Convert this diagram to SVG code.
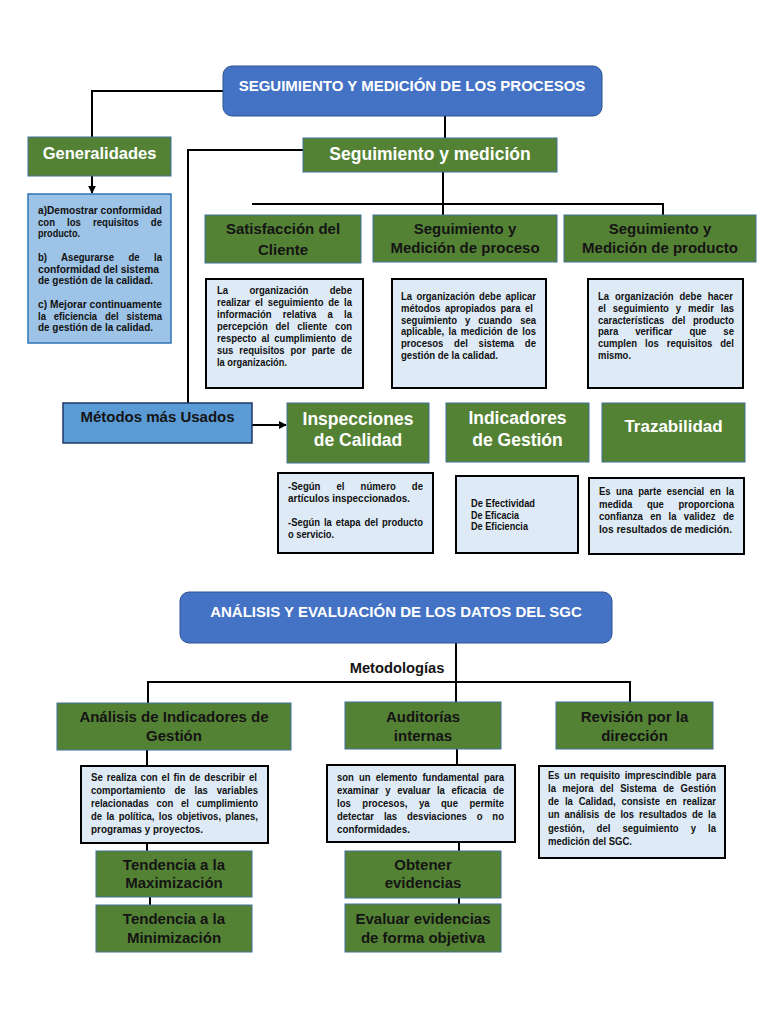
<svg xmlns="http://www.w3.org/2000/svg" width="768" height="1024" viewBox="0 0 768 1024">
<defs>
<marker id="arr" viewBox="0 0 10 10" refX="9" refY="5" markerWidth="4" markerHeight="4" orient="auto" markerUnits="strokeWidth">
<path d="M0,0 L10,5 L0,10 z" fill="#000"/>
</marker>
<style>
text{font-family:"Liberation Sans",Arial,sans-serif;font-weight:bold}
.title{fill:#4472C4;stroke:#2F528F;stroke-width:1}
.tt{fill:#fff;font-size:15px;text-anchor:middle}
.g{fill:#548235;stroke:#41719C;stroke-width:1}
.gw{fill:#fff;font-size:17.5px;text-anchor:middle}
.gk{fill:#141414;font-size:15px;text-anchor:middle}
.desc{fill:#DEEBF7;stroke:#000;stroke-width:2}
.d{fill:#111;font-size:11px}
.con{fill:none;stroke:#000;stroke-width:2}
</style>
</defs>
<rect width="768" height="1024" fill="#fff"/>

<g id="connectors">
<path class="con" d="M223,91 H92 V137"/>
<path class="con" d="M92,176 V193" marker-end="url(#arr)"/>
<path class="con" d="M445,116 V138"/>
<path class="con" d="M303,150 H188 V403"/>
<path class="con" d="M443,172 V215"/>
<path class="con" d="M252,204 H663 V215"/>
<path class="con" d="M252,425 H286" marker-end="url(#arr)"/>
<path class="con" d="M456,643 V702"/>
<path class="con" d="M148,703 V682 H630 V702"/>
<path class="con" d="M147,750 V766"/>
<path class="con" d="M147,843 V851"/>
<path class="con" d="M150,897 V905"/>
<path class="con" d="M457,749 V765"/>
<path class="con" d="M459,842 V851"/>
<path class="con" d="M459,898 V904"/>
</g>

<g id="title1">
<rect class="title" x="223" y="66" width="379" height="50" rx="9"/>
<text class="tt" x="412" y="91">SEGUIMIENTO Y MEDICIÓN DE LOS PROCESOS</text>
</g>

<g id="generalidades">
<rect class="g" x="28" y="137" width="143" height="39"/>
<text x="99.5" y="159" style="fill:#fff;font-size:16.5px;text-anchor:middle">Generalidades</text>
</g>

<g id="generalidades-desc">
<rect x="28" y="194" width="143" height="149" fill="#9DC3E6" stroke="#2E75B6" stroke-width="1.5"/>
<text class="d" x="38" y="214" textLength="124" lengthAdjust="spacingAndGlyphs">a)Demostrar conformidad</text>
<text class="d" x="38" y="225.5" textLength="124" lengthAdjust="spacingAndGlyphs" word-spacing="10.9">con los requisitos de</text>
<text class="d" x="38" y="237" textLength="42" lengthAdjust="spacingAndGlyphs">producto.</text>
<text class="d" x="38" y="261" textLength="124" lengthAdjust="spacingAndGlyphs" word-spacing="13.4">b) Asegurarse de la</text>
<text class="d" x="38" y="272.5" textLength="121" lengthAdjust="spacingAndGlyphs">conformidad del sistema</text>
<text class="d" x="38" y="284" textLength="115" lengthAdjust="spacingAndGlyphs">de gestión de la calidad.</text>
<text class="d" x="38" y="308" textLength="124" lengthAdjust="spacingAndGlyphs">c) Mejorar continuamente</text>
<text class="d" x="38" y="319.5" textLength="124" lengthAdjust="spacingAndGlyphs" word-spacing="6">la eficiencia del sistema</text>
<text class="d" x="38" y="331" textLength="115" lengthAdjust="spacingAndGlyphs">de gestión de la calidad.</text>
</g>

<g id="seguimiento-medicion">
<rect class="g" x="303" y="138" width="254" height="34"/>
<text class="gw" x="430" y="160">Seguimiento y medición</text>
</g>

<g id="satisfaccion">
<rect class="g" x="205" y="215" width="156" height="48"/>
<text class="gk" x="283" y="234">Satisfacción del</text>
<text class="gk" x="283" y="255">Cliente</text>
</g>

<g id="proceso">
<rect class="g" x="373" y="215" width="184" height="47"/>
<text class="gk" x="465" y="234">Seguimiento y</text>
<text class="gk" x="465" y="253">Medición de proceso</text>
</g>

<g id="producto">
<rect class="g" x="564" y="215" width="192" height="47"/>
<text class="gk" x="660" y="234">Seguimiento y</text>
<text class="gk" x="660" y="253">Medición de producto</text>
</g>

<g id="satisfaccion-desc">
<rect class="desc" x="206" y="279" width="157" height="109"/>
<text class="d" x="217" y="294" textLength="135" lengthAdjust="spacingAndGlyphs" word-spacing="21.3">La organización debe</text>
<text class="d" x="217" y="306" textLength="135" lengthAdjust="spacingAndGlyphs" word-spacing="2.5">realizar el seguimiento de la</text>
<text class="d" x="217" y="318" textLength="135" lengthAdjust="spacingAndGlyphs" word-spacing="9.9">información relativa a la</text>
<text class="d" x="217" y="330" textLength="135" lengthAdjust="spacingAndGlyphs" word-spacing="6">percepción del cliente con</text>
<text class="d" x="217" y="342" textLength="135" lengthAdjust="spacingAndGlyphs" word-spacing="2.7">respecto al cumplimiento de</text>
<text class="d" x="217" y="354" textLength="135" lengthAdjust="spacingAndGlyphs" word-spacing="3.8">sus requisitos por parte de</text>
<text class="d" x="217" y="366" textLength="70" lengthAdjust="spacingAndGlyphs">la organización.</text>
</g>

<g id="proceso-desc">
<rect class="desc" x="392" y="279" width="154" height="109"/>
<text class="d" x="401" y="300" textLength="135" lengthAdjust="spacingAndGlyphs" word-spacing="2">La organización debe aplicar</text>
<text class="d" x="401" y="311.8" textLength="132" lengthAdjust="spacingAndGlyphs" word-spacing="2.2">métodos apropiados para el</text>
<text class="d" x="401" y="323.6" textLength="135" lengthAdjust="spacingAndGlyphs" word-spacing="6.2">seguimiento y cuando sea</text>
<text class="d" x="401" y="335.4" textLength="135" lengthAdjust="spacingAndGlyphs" word-spacing="2">aplicable, la medición de los</text>
<text class="d" x="401" y="347.2" textLength="135" lengthAdjust="spacingAndGlyphs" word-spacing="9.3">procesos del sistema de</text>
<text class="d" x="401" y="359" textLength="97" lengthAdjust="spacingAndGlyphs">gestión de la calidad.</text>
</g>

<g id="producto-desc">
<rect class="desc" x="588" y="279" width="155" height="109"/>
<text class="d" x="598" y="300" textLength="135" lengthAdjust="spacingAndGlyphs" word-spacing="3.9">La organización debe hacer</text>
<text class="d" x="598" y="311.8" textLength="136" lengthAdjust="spacingAndGlyphs" word-spacing="4.9">el seguimiento y medir las</text>
<text class="d" x="598" y="323.6" textLength="136" lengthAdjust="spacingAndGlyphs" word-spacing="5.8">características del producto</text>
<text class="d" x="598" y="335.4" textLength="136" lengthAdjust="spacingAndGlyphs" word-spacing="16.3">para verificar que se</text>
<text class="d" x="598" y="347.2" textLength="136" lengthAdjust="spacingAndGlyphs" word-spacing="6.2">cumplen los requisitos del</text>
<text class="d" x="598" y="359" textLength="33" lengthAdjust="spacingAndGlyphs">mismo.</text>
</g>

<g id="metodos">
<rect x="63" y="403" width="189" height="40" fill="#5B9BD5" stroke="#1F3864" stroke-width="1.5"/>
<text class="gk" x="157.5" y="422">Métodos más Usados</text>
</g>

<g id="inspecciones">
<rect class="g" x="287" y="403" width="142" height="60"/>
<text class="gw" x="358" y="425">Inspecciones</text>
<text class="gw" x="358" y="446">de Calidad</text>
</g>

<g id="indicadores">
<rect class="g" x="446" y="403" width="143" height="59"/>
<text class="gw" x="517.5" y="424">Indicadores</text>
<text class="gw" x="517.5" y="446">de Gestión</text>
</g>

<g id="trazabilidad">
<rect class="g" x="602" y="403" width="143" height="59"/>
<text class="gw" x="673.5" y="432" style="font-size:17px">Trazabilidad</text>
</g>

<g id="inspecciones-desc">
<rect class="desc" x="278" y="473" width="155" height="80"/>
<text class="d" x="288" y="490" textLength="135" lengthAdjust="spacingAndGlyphs" word-spacing="15.4">-Según el número de</text>
<text class="d" x="288" y="502" textLength="122" lengthAdjust="spacingAndGlyphs">artículos inspeccionados.</text>
<text class="d" x="288" y="526" textLength="135" lengthAdjust="spacingAndGlyphs" word-spacing="1.5">-Según la etapa del producto</text>
<text class="d" x="288" y="538" textLength="46" lengthAdjust="spacingAndGlyphs">o servicio.</text>
</g>

<g id="indicadores-desc">
<rect class="desc" x="456" y="476" width="122" height="77" stroke-width="1.5"/>
<text class="d" x="471" y="507" textLength="64" lengthAdjust="spacingAndGlyphs">De Efectividad</text>
<text class="d" x="471" y="518.5" textLength="48" lengthAdjust="spacingAndGlyphs">De Eficacia</text>
<text class="d" x="471" y="530" textLength="57" lengthAdjust="spacingAndGlyphs">De Eficiencia</text>
</g>

<g id="trazabilidad-desc">
<rect class="desc" x="589" y="478" width="155" height="76" stroke-width="1.5"/>
<text class="d" x="599" y="495" textLength="135" lengthAdjust="spacingAndGlyphs" word-spacing="3.2">Es una parte esencial en la</text>
<text class="d" x="599" y="507.5" textLength="135" lengthAdjust="spacingAndGlyphs" word-spacing="13.7">medida que proporciona</text>
<text class="d" x="599" y="520" textLength="135" lengthAdjust="spacingAndGlyphs" word-spacing="5.4">confianza en la validez de</text>
<text class="d" x="599" y="532.5" textLength="133" lengthAdjust="spacingAndGlyphs">los resultados de medición.</text>
</g>

<g id="title2">
<rect class="title" x="180" y="592" width="432" height="51" rx="9"/>
<text class="tt" x="396" y="617">ANÁLISIS Y EVALUACIÓN DE LOS DATOS DEL SGC</text>
</g>

<g id="metodologias">
<text x="397" y="673" style="fill:#141414;font-size:14.7px;text-anchor:middle">Metodologías</text>
</g>

<g id="analisis">
<rect class="g" x="57" y="703" width="234" height="47"/>
<text class="gk" x="174" y="722">Análisis de Indicadores de</text>
<text class="gk" x="174" y="741">Gestión</text>
</g>

<g id="auditorias">
<rect class="g" x="345" y="702" width="156" height="47"/>
<text class="gk" x="423" y="722">Auditorías</text>
<text class="gk" x="423" y="741">internas</text>
</g>

<g id="revision">
<rect class="g" x="556" y="702" width="157" height="47"/>
<text class="gk" x="634.5" y="722">Revisión por la</text>
<text class="gk" x="634.5" y="741">dirección</text>
</g>

<g id="analisis-desc">
<rect class="desc" x="81" y="766" width="187" height="77" stroke-width="1.5"/>
<text class="d" x="91" y="781" textLength="166" lengthAdjust="spacingAndGlyphs" word-spacing="1.4">Se realiza con el fin de describir el</text>
<text class="d" x="91" y="794" textLength="167" lengthAdjust="spacingAndGlyphs" word-spacing="7.4">comportamiento de las variables</text>
<text class="d" x="91" y="807" textLength="167" lengthAdjust="spacingAndGlyphs" word-spacing="5.8">relacionadas con el cumplimiento</text>
<text class="d" x="91" y="820" textLength="167" lengthAdjust="spacingAndGlyphs" word-spacing="2">de la política, los objetivos, planes,</text>
<text class="d" x="91" y="833" textLength="112" lengthAdjust="spacingAndGlyphs">programas y proyectos.</text>
</g>

<g id="auditorias-desc">
<rect class="desc" x="327" y="765" width="188" height="77" stroke-width="1.5"/>
<text class="d" x="337" y="781" textLength="167" lengthAdjust="spacingAndGlyphs" word-spacing="2.9">son un elemento fundamental para</text>
<text class="d" x="337" y="794" textLength="167" lengthAdjust="spacingAndGlyphs" word-spacing="4.6">examinar y evaluar la eficacia de</text>
<text class="d" x="337" y="807" textLength="167" lengthAdjust="spacingAndGlyphs" word-spacing="10.2">los procesos, ya que permite</text>
<text class="d" x="337" y="820" textLength="167" lengthAdjust="spacingAndGlyphs" word-spacing="8.3">detectar las desviaciones o no</text>
<text class="d" x="337" y="833" textLength="73" lengthAdjust="spacingAndGlyphs">conformidades.</text>
</g>

<g id="revision-desc">
<rect class="desc" x="539" y="766" width="186" height="92"/>
<text class="d" x="548" y="779" textLength="168" lengthAdjust="spacingAndGlyphs" word-spacing="2.2">Es un requisito imprescindible para</text>
<text class="d" x="548" y="792" textLength="168" lengthAdjust="spacingAndGlyphs" word-spacing="4.4">la mejora del Sistema de Gestión</text>
<text class="d" x="548" y="805" textLength="168" lengthAdjust="spacingAndGlyphs" word-spacing="3.7">de la Calidad, consiste en realizar</text>
<text class="d" x="548" y="818" textLength="168" lengthAdjust="spacingAndGlyphs" word-spacing="2.7">un análisis de los resultados de la</text>
<text class="d" x="548" y="832" textLength="168" lengthAdjust="spacingAndGlyphs" word-spacing="10.8">gestión, del seguimiento y la</text>
<text class="d" x="548" y="845" textLength="84" lengthAdjust="spacingAndGlyphs">medición del SGC.</text>
</g>

<g id="tendencia-max">
<rect class="g" x="96" y="851" width="156" height="46"/>
<text class="gk" x="174" y="870">Tendencia a la</text>
<text class="gk" x="174" y="888">Maximización</text>
</g>

<g id="tendencia-min">
<rect class="g" x="96" y="905" width="156" height="47"/>
<text class="gk" x="174" y="924">Tendencia a la</text>
<text class="gk" x="174" y="943">Minimización</text>
</g>

<g id="obtener">
<rect class="g" x="345" y="851" width="156" height="47"/>
<text class="gk" x="423" y="870">Obtener</text>
<text class="gk" x="423" y="888">evidencias</text>
</g>

<g id="evaluar">
<rect class="g" x="345" y="904" width="156" height="48"/>
<text class="gk" x="423" y="924">Evaluar evidencias</text>
<text class="gk" x="423" y="943">de forma objetiva</text>
</g>
</svg>
